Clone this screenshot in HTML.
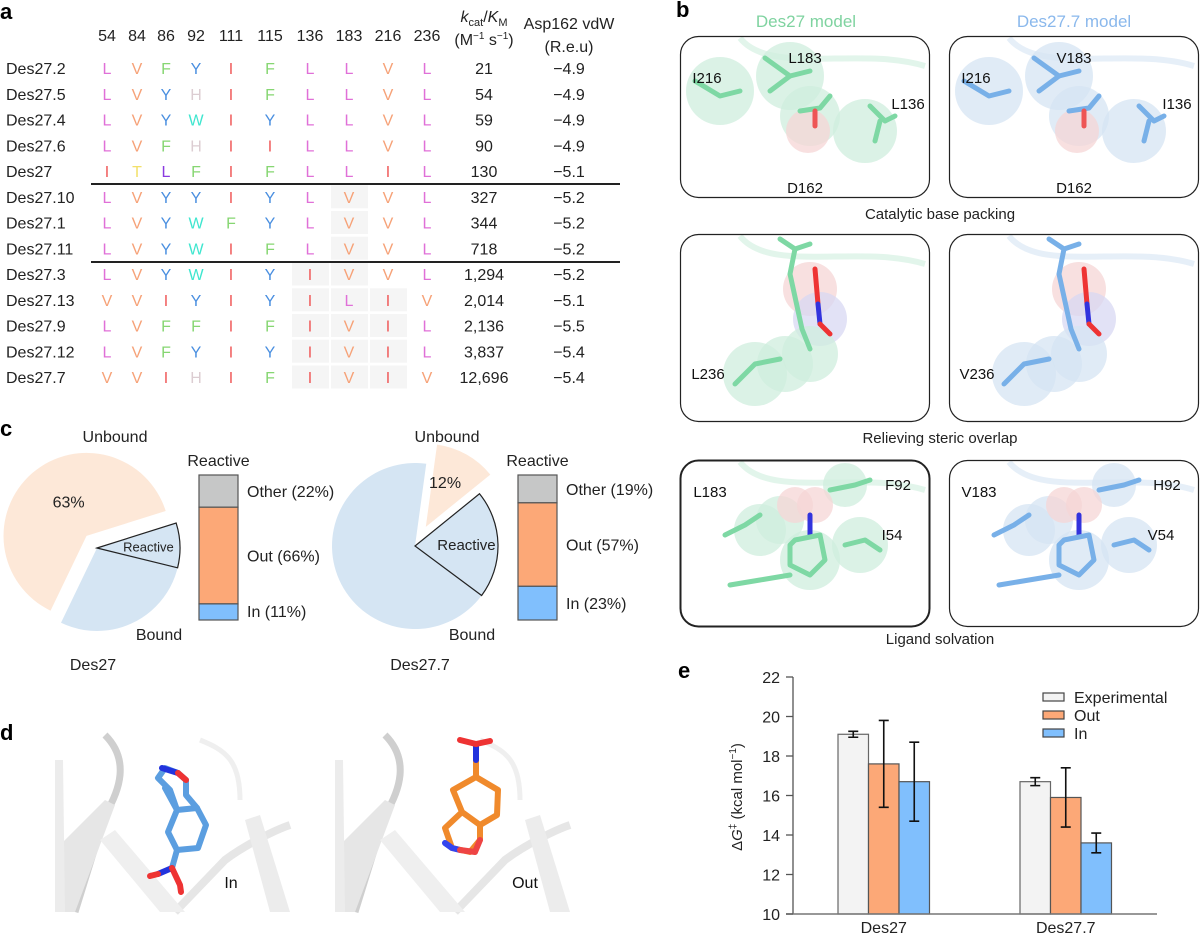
<!DOCTYPE html>
<html><head><meta charset="utf-8">
<style>
html,body{margin:0;padding:0;background:#fff;}
svg{display:block;font-family:"Liberation Sans",Arial,sans-serif;}
</style></head>
<body>
<svg id="fig" width="1200" height="936" viewBox="0 0 1200 936" xmlns="http://www.w3.org/2000/svg">
<g id="pa"></g>
<g id="pb"></g>
<g id="pc"></g>
<g id="pd"></g>
<g id="pe"></g>
</svg>
<script>
const NS="http://www.w3.org/2000/svg";
function mk(p,t,a,txt){const e=document.createElementNS(NS,t);for(const k in a)e.setAttribute(k,a[k]);if(txt!==undefined)e.textContent=txt;p.appendChild(e);return e;}

// ---------- Panel a data ----------
const positions=["54","84","86","92","111","115","136","183","216","236"];
const variants=["Des27.2","Des27.5","Des27.4","Des27.6","Des27","Des27.10","Des27.1","Des27.11","Des27.3","Des27.13","Des27.9","Des27.12","Des27.7"];
const sequences=["LVFYIFLLVL","LVYHIFLLVL","LVYWIYLLVL","LVFHIILLVL","ITLFIFLLIL","LVYYIYLVVL","LVYWFYLVVL","LVYWIFLVVL","LVYWIYIVVL","VVIYIYILIV","LVFFIFIVIL","LVFYIYIVIL","VVIHIFIVIV"];
const kcatKm=["21","54","59","90","130","327","344","718","1,294","2,014","2,136","3,837","12,696"];
const aspVdw=["\u22124.9","\u22124.9","\u22124.9","\u22124.9","\u22125.1","\u22125.2","\u22125.2","\u22125.2","\u22125.2","\u22125.1","\u22125.5","\u22125.4","\u22125.4"];
const colX=[107,137,166,196,231,270,310,349,388,427];
const aaColor={L:"#e070d8",V:"#f6a278",F:"#86d672",Y:"#4a8fe0",I:"#f05a5a",H:"#dccdd2",W:"#3fe6cf",T:"#f2e06a"};
(function(){
 const g=document.getElementById("pa");
 let t=mk(g,"text",{x:0,y:19,"font-size":22,"font-weight":"bold"},"a");
 
 const rowY=i=>68+i*25.75;
 // gray shading
 for(let i=0;i<variants.length;i++){
   sequences[i].split("").forEach((aa,j)=>{
     const p=positions[j];
     const shade=(p==="183"&&i>=5)||(p==="136"&&i>=8)||(p==="216"&&i>=9);
     if(shade){const r=mk(g,"rect",{x:colX[j]-18,y:rowY(i)-11.5,width:37,height:23,fill:"#f5f5f5"});
       }
   });
 }
 positions.forEach((p,j)=>{const e=mk(g,"text",{x:colX[j],y:41,"font-size":16,"text-anchor":"middle",fill:"#222"},p);
   });
 let h=mk(g,"text",{x:484,y:22,"font-size":16,"text-anchor":"middle",fill:"#222"});
 h.innerHTML='<tspan font-style="italic">k</tspan><tspan font-size="11" dy="4">cat</tspan><tspan dy="-4">/</tspan><tspan font-style="italic">K</tspan><tspan font-size="11" dy="4">M</tspan>';
 
 h=mk(g,"text",{x:484,y:45,"font-size":16,"text-anchor":"middle",fill:"#222"});
 h.innerHTML='(M<tspan font-size="10" dy="-6">\u22121</tspan><tspan dy="6"> s</tspan><tspan font-size="10" dy="-6">\u22121</tspan><tspan dy="6">)</tspan>';
 
 h=mk(g,"text",{x:569,y:29,"font-size":16,"text-anchor":"middle",fill:"#222"},"Asp162 vdW");
 
 h=mk(g,"text",{x:569,y:52,"font-size":16,"text-anchor":"middle",fill:"#222"},"(R.e.u)");
 
 for(let i=0;i<variants.length;i++){
   const y=rowY(i)+6;
   let e=mk(g,"text",{x:6,y:y,"font-size":16,fill:"#222"},variants[i]);
   
   sequences[i].split("").forEach((aa,j)=>{
     let c=aaColor[aa]; if(variants[i]==="Des27"&&j===2)c="#8a3ae0";
     const s=mk(g,"text",{x:colX[j],y:y,"font-size":16,"text-anchor":"middle",fill:c},aa);
     
   });
   e=mk(g,"text",{x:484,y:y,"font-size":16,"text-anchor":"middle",fill:"#222"},kcatKm[i]);
   
   e=mk(g,"text",{x:569,y:y,"font-size":16,"text-anchor":"middle",fill:"#222"},aspVdw[i]);
   
 }
 [184,262].forEach(y=>{const l=mk(g,"line",{x1:91,x2:620,y1:y,y2:y,stroke:"#222","stroke-width":2});
   });
})();

// ---------- Panel b (illustrative structures) ----------
(function(){
 const g=document.getElementById("pb");
 let t=mk(g,"text",{x:676,y:17,"font-size":22,"font-weight":"bold"},"b");
 
 t=mk(g,"text",{x:806,y:27,"font-size":17,"text-anchor":"middle",fill:"#7fd3a0"},"Des27 model");
 
 t=mk(g,"text",{x:1074,y:27,"font-size":17,"text-anchor":"middle",fill:"#8ab8ec"},"Des27.7 model");
 
 const rows=[[36,197],[234,421],[460,626]];
 const caps=[["Catalytic base packing",219],["Relieving steric overlap",443],["Ligand solvation",644]];
 const green={sp:"#cfeedd",st:"#7ed8a4",lab:["I216","L183","L136","D162"]};
 const blue={sp:"#d6e4f3",st:"#78b0e8"};
 const boxes=[[680,930],[949,1199]];
 rows.forEach((r,ri)=>{
   boxes.forEach((b,bi)=>{
     const col=bi===0?green:blue;
     const cg=mk(g,"g",{});
     
     const ox=b[0],oy=r[0];
     const circ=(x,y,rr,f)=>mk(cg,"circle",{cx:ox+x,cy:oy+y,r:rr,fill:f,opacity:0.75});
     const stick=(pts,c)=>mk(cg,"polyline",{points:pts.map(p=>(ox+p[0])+","+(oy+p[1])).join(" "),fill:"none",stroke:c,"stroke-width":5,"stroke-linecap":"round","stroke-linejoin":"round"});
     // faint ribbons
     mk(cg,"path",{d:`M${ox+60} ${oy+2} C ${ox+90} ${oy+40}, ${ox+180} ${oy+10}, ${ox+245} ${oy+30}`,stroke:col.sp,"stroke-width":6,fill:"none",opacity:0.6});
     if(ri===0){
       circ(40,55,34,col.sp);circ(110,40,34,col.sp);circ(130,80,30,col.sp);circ(185,95,32,col.sp);
       circ(128,95,22,"#f5d6d6");
       stick([[15,45],[40,60],[60,55]],col.st);stick([[85,22],[110,40],[130,35]],col.st);stick([[110,40],[90,55]],col.st);
       stick([[120,75],[140,72],[150,60]],col.st);stick([[135,75],[135,90]],"#e55");
       stick([[190,70],[205,85],[215,80]],col.st);stick([[200,85],[195,105]],col.st);
       const L=bi===0?["I216","L183","L136","D162"]:["I216","V183","I136","D162"];
       [[27,42],[125,22],[228,68],[125,152]].forEach((p,k)=>{const e=mk(cg,"text",{x:ox+p[0],y:oy+p[1]+5,"font-size":15,"text-anchor":"middle",fill:"#111"},L[k]);
         });
     } else if(ri===1){
       circ(130,55,27,"#f5d6d6");circ(140,85,27,"#d8d8f3");circ(130,120,28,col.sp);
       circ(75,140,32,col.sp);circ(105,130,28,col.sp);
       stick([[100,5],[115,15],[130,10]],col.st);stick([[115,15],[110,40],[122,95],[130,115]],col.st);
       stick([[135,35],[138,70]],"#e33");stick([[138,70],[140,90]],"#33d");stick([[140,90],[150,100]],"#e33");
       stick([[55,150],[75,130],[100,125]],col.st);
       const e=mk(cg,"text",{x:ox+28,y:oy+145,"font-size":15,"text-anchor":"middle",fill:"#111"},bi===0?"L236":"V236");
       
     } else {
       circ(80,70,26,col.sp);circ(100,60,24,col.sp);circ(130,100,30,col.sp);circ(180,85,28,col.sp);circ(165,25,22,col.sp);
       circ(115,45,18,"#f5d6d6");circ(135,45,18,"#f5d6d6");
       stick([[45,75],[65,65],[80,55]],col.st);stick([[150,30],[175,25],[190,20]],col.st);
       stick([[165,85],[185,80],[200,90]],col.st);stick([[130,55],[130,75]],"#33d");
       stick([[115,80],[140,75],[145,100],[130,115],[110,105],[110,85],[115,80]],col.st);
       stick([[50,125],[80,120],[110,115]],col.st);
       const L=bi===0?["L183","F92","I54"]:["V183","H92","V54"];
       [[30,32],[218,25],[212,75]].forEach((p,k)=>{const e=mk(cg,"text",{x:ox+p[0],y:oy+p[1]+5,"font-size":15,"text-anchor":"middle",fill:"#111"},L[k]);
         });
     }
     const bx=mk(g,"rect",{x:b[0]+0.5,y:r[0]+0.5,width:b[1]-b[0]-1,height:r[1]-r[0],rx:18,fill:"none",stroke:"#222","stroke-width":(ri===2&&bi===0)?2:1.2});
     
   });
   const c=mk(g,"text",{x:940,y:caps[ri][1],"font-size":15,"text-anchor":"middle",fill:"#222"},caps[ri][0]);
   
 });
})();

// ---------- Panel c data ----------
const pieNames=["Des27","Des27.7"];
const unboundPct=[63,12];
const reactivePct=[8.7,21];
const otherPct=[22,19];
const outPct=[66,57];
const inPct=[11,23];
(function(){
 const g=document.getElementById("pc");
 let t=mk(g,"text",{x:0,y:436,"font-size":22,"font-weight":"bold"},"c");
 
 const centers=[[97,548],[415,546]];
 const startAng=[-17.5,-39]; // bound start angle (deg, clockwise)
 const explode=[16,22];
 const R=83;
 const pt=(cx,cy,a,r)=>[cx+r*Math.cos(a*Math.PI/180),cy+r*Math.sin(a*Math.PI/180)];
 const wedge=(cx,cy,a0,a1)=>{const p0=pt(cx,cy,a0,R),p1=pt(cx,cy,a1,R);const large=(a1-a0)>180?1:0;
   return `M${cx},${cy} L${p0[0]},${p0[1]} A${R},${R} 0 ${large} 1 ${p1[0]},${p1[1]} Z`;};
 const barX=[199,518],barTop=475,barH=145,barW=39;
 for(let i=0;i<2;i++){
   const [cx,cy]=centers[i];
   const a0=startAng[i], boundSpan=360*(100-unboundPct[i])/100;
   const aB=a0+boundSpan;
   const mid=(aB+a0+360)/2, d=explode[i];
   const ux=cx+d*Math.cos(mid*Math.PI/180), uy=cy+d*Math.sin(mid*Math.PI/180);
   let e=mk(g,"path",{d:wedge(ux,uy,aB,a0+360),fill:"#fde8d8"});
   
   e=mk(g,"path",{d:wedge(cx,cy,a0,aB),fill:"#d5e5f3"});
   
   const aR=a0+360*reactivePct[i]/100;
   e=mk(g,"path",{d:wedge(cx,cy,a0,aR),fill:"#d5e5f3",stroke:"#222","stroke-width":1.2});
   
   const rm=pt(cx,cy,(a0+aR)/2,R*0.62);
   e=mk(g,"text",{x:rm[0],y:rm[1]+5,"font-size":i===0?13:15,"text-anchor":"middle",fill:"#222"},"Reactive");
   
   const um=pt(ux,uy,mid,i===0?R*0.55:R*0.62);
   e=mk(g,"text",{x:um[0]+(i===0?12:-6),y:um[1]+6,"font-size":16,"text-anchor":"middle",fill:"#222"},unboundPct[i]+"%");
   
   e=mk(g,"text",{x:i===0?115:447,y:442,"font-size":16,"text-anchor":"middle",fill:"#222"},"Unbound");
   
   e=mk(g,"text",{x:i===0?159:472,y:640,"font-size":16,"text-anchor":"middle",fill:"#222"},"Bound");
   
   e=mk(g,"text",{x:i===0?93:420,y:670,"font-size":16,"text-anchor":"middle",fill:"#222"},pieNames[i]);
   
   // stacked bar
   const bx=barX[i]; let y=barTop;
   const segs=[[otherPct[i],"#c6c7c7","Other"],[outPct[i],"#fca877","Out"],[inPct[i],"#80bffd","In"]];
   const tot=otherPct[i]+outPct[i]+inPct[i];
   e=mk(g,"text",{x:bx+barW/2,y:466,"font-size":16,"text-anchor":"middle",fill:"#222"},"Reactive");
   
   segs.forEach(s=>{const h=barH*s[0]/tot;
     const r=mk(g,"rect",{x:bx,y:y,width:barW,height:h,fill:s[1],stroke:"#555","stroke-width":1.2});
     
     const lab=mk(g,"text",{x:bx+barW+9,y:Math.min(y+h/2+6,barTop+barH-3),"font-size":16,fill:"#222"},s[2]+" ("+s[0]+"%)");
     
     y+=h;});
 }
})();

// ---------- Panel d (illustrative) ----------
(function(){
 const g=document.getElementById("pd");
 let t=mk(g,"text",{x:0,y:740,"font-size":22,"font-weight":"bold"},"d");
 
 const views=[[55,"In",231],[335,"Out",525]];
 views.forEach((v,vi)=>{
   const ox=v[0];
   const vg=mk(g,"g",{});
   
   mk(vg,"path",{d:`M${ox+50} ${735} C ${ox+75} ${760}, ${ox+65} ${790}, ${ox+50} ${815} L ${ox+20} ${912}`,stroke:"#cfcfcf","stroke-width":7,fill:"none"});
   mk(vg,"polygon",{points:`${ox},${850} ${ox+50},${800} ${ox+60},${805} ${ox+20},${912} ${ox},${912}`,fill:"#e6e6e6"});
   mk(vg,"polygon",{points:`${ox},${760} ${ox+8},${760} ${ox+10},${912} ${ox},${912}`,fill:"#ececec"});
   mk(vg,"path",{d:`M${ox+120} ${912} L ${ox+170} ${860} C ${ox+190} ${845}, ${ox+220} ${830}, ${ox+235} ${825}`,stroke:"#e6e6e6","stroke-width":8,fill:"none"});
   mk(vg,"path",{d:`M${ox+145} ${740} C ${ox+170} ${750}, ${ox+185} ${760}, ${ox+185} ${800}`,stroke:"#efefef","stroke-width":5,fill:"none"});
   mk(vg,"polygon",{points:`${ox+190},${820} ${ox+205},${815} ${ox+235},${912} ${ox+215},${912}`,fill:"#ececec"});
   mk(vg,"polygon",{points:`${ox+60},${830} ${ox+130},${912} ${ox+105},${912} ${ox+45},${840}`,fill:"#efefef"});
   const st=(pts,c)=>mk(vg,"polyline",{points:pts.map(p=>p[0]+","+p[1]).join(" "),fill:"none",stroke:c,"stroke-width":6,"stroke-linecap":"round","stroke-linejoin":"round"});
   if(vi===0){
     const c="#5b9ee0";
     st([[165,788],[177,810],[197,808],[206,825],[198,848],[177,850],[168,832],[177,810]],c);
     st([[177,810],[170,790],[158,778],[165,768],[178,773],[186,780],[186,795],[197,808]],c);
     st([[162,768],[178,773]],"#2233dd");st([[178,773],[186,780]],"#e33");
     st([[177,850],[172,868]],c);st([[172,868],[158,874]],"#2233dd");st([[158,874],[150,876]],"#e33");st([[172,868],[180,885],[181,892]],"#e33");
   } else {
     const c="#f08a2c";
     st([[476,777],[498,790],[497,815],[480,825],[462,812],[453,790],[476,777]],c);
     st([[462,812],[445,828],[452,848],[470,852],[480,840],[480,825]],c);
     st([[445,843],[452,848],[460,850]],"#3344ee");st([[460,850],[475,852],[480,840]],"#e44");
     st([[476,777],[476,760]],c);st([[476,760],[476,744]],"#2233dd");st([[476,744],[460,740]],"#e33");st([[476,744],[490,741]],"#e33");
   }
   const e=mk(g,"text",{x:v[2],y:888,"font-size":16,"text-anchor":"middle",fill:"#111"},v[1]);
   
 });
})();

// ---------- Panel e data ----------
const groups=["Des27","Des27.7"];
const seriesNames=["Experimental","Out","In"];
const expVals=[19.1,16.7];
const expErr=[0.15,0.2];
const outVals=[17.6,15.9];
const outErr=[2.2,1.5];
const inVals=[16.7,13.6];
const inErr=[2.0,0.5];
const yTicks=[10,12,14,16,18,20,22];
(function(){
 const g=document.getElementById("pe");
 let t=mk(g,"text",{x:678,y:678,"font-size":22,"font-weight":"bold"},"e");
 
 const x0=793,x1=1157,yTop=677,yBot=914,ymin=10,ymax=22;
 const Y=v=>yBot-(v-ymin)/(ymax-ymin)*(yBot-yTop);
 const groupStart=[838,1020], bw=30.5;
 const X=(gi,si)=>groupStart[gi]+si*bw;
 const series=[[expVals,expErr,"#f3f3f3","#666"],[outVals,outErr,"#fca877","#555"],[inVals,inErr,"#80bffd","#555"]];
 groups.forEach((gn,gi)=>{
   series.forEach((s,si)=>{
     const v=s[0][gi], er=s[1][gi], x=X(gi,si);
     const r=mk(g,"rect",{x:x,y:Y(v),width:bw,height:yBot-Y(v),fill:s[2],stroke:s[3],"stroke-width":1.2});
     
     const cx=x+bw/2;
     const eb=mk(g,"path",{d:`M${cx} ${Y(v+er)} V ${Y(v-er)} M${cx-5} ${Y(v+er)} H ${cx+5} M${cx-5} ${Y(v-er)} H ${cx+5}`,stroke:"#111","stroke-width":1.6,fill:"none"});
     
   });
   const l=mk(g,"text",{x:X(gi,1)+bw/2,y:933,"font-size":16,"text-anchor":"middle",fill:"#222"},gn);
   
 });
 let a=mk(g,"line",{x1:x0,x2:x0,y1:yTop,y2:yBot,stroke:"#555","stroke-width":1.3});
 
 a=mk(g,"line",{x1:x0-7,x2:x1,y1:yBot,y2:yBot,stroke:"#777","stroke-width":1.5});
 
 yTicks.forEach(v=>{
   const tk=mk(g,"line",{x1:x0-7,x2:x0,y1:Y(v),y2:Y(v),stroke:"#555","stroke-width":1.3});
   
   const tl=mk(g,"text",{x:x0-13,y:Y(v)+6,"font-size":16,"text-anchor":"end",fill:"#222"},String(v));
   
 });
 const yl=mk(g,"text",{x:0,y:0,"font-size":15,"text-anchor":"middle",fill:"#222",transform:"translate(742,797) rotate(-90)"});
 yl.innerHTML='\u0394<tspan font-style="italic">G</tspan><tspan font-size="10" dy="-6">\u2021</tspan><tspan dy="6"> (kcal mol</tspan><tspan font-size="10" dy="-6">\u22121</tspan><tspan dy="6">)</tspan>';
 
 series.forEach((s,si)=>{
   const ly=697+si*18;
   const r=mk(g,"rect",{x:1043,y:ly-4,width:21,height:8,fill:s[2],stroke:"#444","stroke-width":1.2});
   
   const tx=mk(g,"text",{x:1074,y:ly+6,"font-size":16,fill:"#222"},seriesNames[si]);
   
 });
})();
</script>
</body></html>
